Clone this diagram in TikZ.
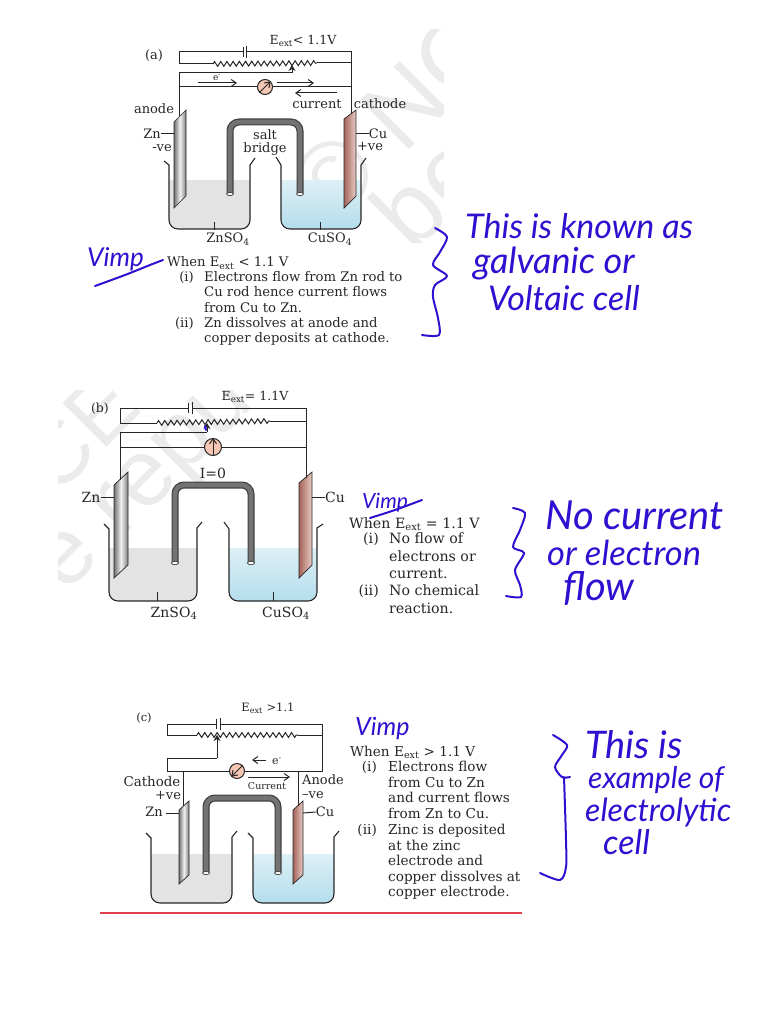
\documentclass[tikz,border=0pt]{standalone}
\usepackage{fontspec}
\setmainfont{DejaVu Serif}
\newfontfamily\handfont{Lato}
\newfontfamily\markfont{Liberation Sans}
\usetikzlibrary{arrows.meta,decorations.pathmorphing}
\definecolor{inkblue}{HTML}{3010D0}
\definecolor{brineblue}{HTML}{B4DDEC}
\definecolor{brinepale}{HTML}{DDF0F6}
\definecolor{meterpink}{HTML}{F6C6B4}
\definecolor{rulered}{HTML}{E0404E}
\definecolor{copperdark}{HTML}{A4635A}
\definecolor{copperpale}{HTML}{EBCDC6}
\tikzset{
  wire/.style={draw=black!85,line width=1pt},
  coil/.style={wire,decorate,decoration={zigzag,segment length=6.2pt,amplitude=2.4pt}},
  slider/.style={wire,-{Stealth[length=6pt,width=7pt]}},
  meter/.style={circle,draw=black!85,fill=meterpink,line width=1pt,minimum size=#1,inner sep=0pt},
  flow/.style={draw=black!85,line width=1pt,-{Straight Barb[length=5pt,width=7pt]}},
  glass/.style={draw=black!85,line width=1.1pt},
  znsalt/.style={fill=black!11},
  cusalt/.style={top color=brinepale,bottom color=brineblue,draw=none},
  tube/.style={draw=black!75,double=black!55,double distance=4.6pt,line width=1.2pt,rounded corners=9pt},
  tubeend/.style={draw=black!75,fill=white,line width=0.7pt},
  znrod/.style={left color=black!55,right color=black!50,middle color=black!6,draw=black!85,line width=0.7pt},
  curod/.style={left color=copperdark,right color=copperpale,draw=black!85,line width=0.7pt},
  lab/.style={font=\fontsize{#1}{#1}\selectfont,inner sep=0pt,text=black!85},
  lab/.default=13,
  prose/.style={font=\fontsize{#1}{15.6}\selectfont,inner sep=0pt,anchor=north west,align=left,text=black!85},
  prose/.default=13.2,
  hand/.style={font=\handfont\itshape\fontsize{#1}{#1}\selectfont,inner sep=0pt,text=inkblue,anchor=west},
  ink/.style={draw=inkblue,line width=2pt,line cap=round,line join=round},
  mark/.style={font=\markfont\fontsize{#1}{#1}\selectfont,text=black!8,rotate=45,inner sep=0pt}
}
\begin{document}
\begin{tikzpicture}[x=1pt,y=-1pt]
\useasboundingbox (0,0) rectangle (768,1024);
% watermark
\begin{scope}
\clip (70,30) rectangle (443,242);
\node[mark=100] (markA) at (394,116) {© NC};
\node[mark=100] (markB) at (428,190) {be};
\end{scope}
\begin{scope}
\clip (58,390) rectangle (330,625);
\node[mark=90] (markC) at (78,432) {CE};
\node[mark=95] (markD) at (150,488) {e repu};
\end{scope}

% cell a
\fill[znsalt] (169,180) [rounded corners=9pt] -- (169,229) -- (250,229) [sharp corners] -- (250,180) -- cycle;
\path[cusalt] (281,180) [rounded corners=9pt] -- (281,229) -- (361,229) [sharp corners] -- (361,180) -- cycle;
\draw[tube] (230,194) -- (230,122) -- (300,122) -- (300,194);
\draw[tubeend] (230,194) ellipse (3.4 and 1.6);
\draw[tubeend] (300,194) ellipse (3.4 and 1.6);
\draw[glass] (164,161) -- (169,165) [rounded corners=9pt] -- (169,229) -- (250,229) [sharp corners] -- (250,165) -- (255,158);
\draw[glass] (276,157) -- (281,165) [rounded corners=9pt] -- (281,229) -- (361,229) [sharp corners] -- (361,165) -- (366,158);
\draw[znrod] (174,122) -- (186,110) -- (186,196) -- (174,208) -- cycle;
\draw[curod] (344,119) -- (356,110) -- (356,196) -- (344,208) -- cycle;
\coordinate (aTopL) at (179,52);
\coordinate (aTopR) at (351,52);
\coordinate (aBatL) at (243,52);
\coordinate (aBatR) at (246,52);
\coordinate (aLoopL) at (179,64);
\coordinate (aResL) at (213,64);
\coordinate (aResR) at (317,63);
\coordinate (aLoopR) at (351,63);
\coordinate (aTapL) at (179,73);
\coordinate (aTapM) at (292,73);
\coordinate (aTapT) at (292,65);
\coordinate (aMidL) at (179,87);
\coordinate (aMidR) at (351,87);
\coordinate (aRodL) at (179,116);
\coordinate (aRodR) at (351,114);
\node[meter=15pt] (galA) at (265,87) {};
\draw[wire] (aBatL) -- (aTopL) -- (aLoopL) -- (aResL);
\draw[wire] (aBatR) -- (aTopR) -- (aRodR);
\draw[wire] (aBatL) +(0,-5) -- +(0,5);
\draw[wire] (aBatR) +(0,-6) -- +(0,6);
\draw[coil] (aResL) -- (aResR);
\draw[wire] (aResR) -- (aLoopR);
\draw[wire] (aRodL) -- (aTapL) -- (aTapM);
\draw[slider] (aTapM) -- (aTapT);
\draw[wire] (aMidL) -- (galA) -- (aMidR);
\draw[flow] (galA.225) -- (galA.45);
\coordinate (aElecL) at (198,83);
\coordinate (aElecR) at (237,83);
\coordinate (aCurL) at (277,83);
\coordinate (aCurR) at (314,83);
\coordinate (aBackL) at (295,93);
\coordinate (aBackR) at (337,93);
\draw[flow] (aElecL) -- (aElecR);
\draw[flow] (aCurL) -- (aCurR);
\draw[flow] (aBackR) -- (aBackL);
\node[lab=9] (aElec) at (217,78) {e\textsuperscript{-}};
\node[lab] (aPart) at (154,56) {(a)};
\node[lab=12.5] (aExt) at (303,41) {E\textsubscript{ext}< 1.1V};
\node[lab] (aCurrent) at (317,104) {current};
\node[lab] (aCathode) at (380,104) {cathode};
\node[lab] (aAnode) at (154,109) {anode};
\node[lab] (aZn) at (152,134) {Zn};
\node[lab] (aZnSign) at (162,148) {-ve};
\node[lab] (aCu) at (378,134) {Cu};
\node[lab] (aCuSign) at (370,147) {+ve};
\node[lab] (aSalt) at (265,135) {salt};
\node[lab] (aBridge) at (265,149) {bridge};
\node[lab] (aZnSalt) at (228,239) {ZnSO\textsubscript{4}};
\node[lab] (aCuSalt) at (330,239) {CuSO\textsubscript{4}};
\draw[wire] (aZn.east) -- (174,134);
\draw[wire] (aCu.west) -- (356,134);
\draw[wire] (214,222) -- (214,230);
\draw[wire] (320,222) -- (320,230);
\node[prose,anchor=west] (aWhen) at (167,263) {When E\textsubscript{ext} < 1.1 V};
\node[prose,anchor=north east] (aNumI) at (194,271) {(i)};
\node[prose] (aItemI) at (204,271) {Electrons flow from Zn rod to\\Cu rod hence current flows\\from Cu to Zn.};
\node[prose,anchor=north east] (aNumII) at (194,317) {(ii)};
\node[prose] (aItemII) at (204,317) {Zn dissolves at anode and\\copper deposits at cathode.};

% cell b
\fill[znsalt] (109,548) [rounded corners=9pt] -- (109,601) -- (197,601) [sharp corners] -- (197,548) -- cycle;
\path[cusalt] (229,548) [rounded corners=9pt] -- (229,601) -- (317,601) [sharp corners] -- (317,548) -- cycle;
\draw[tube] (175,563) -- (175,485) -- (251,485) -- (251,563);
\draw[tubeend] (175,563) ellipse (3.6 and 1.7);
\draw[tubeend] (251,563) ellipse (3.6 and 1.7);
\draw[glass] (104,524) -- (109,529) [rounded corners=9pt] -- (109,601) -- (197,601) [sharp corners] -- (197,528) -- (202,522);
\draw[glass] (224,522) -- (229,529) [rounded corners=9pt] -- (229,601) -- (317,601) [sharp corners] -- (317,528) -- (323,524);
\draw[znrod] (114,485) -- (128,472) -- (128,565) -- (114,578) -- cycle;
\draw[curod] (299,483) -- (312,472) -- (312,565) -- (299,578) -- cycle;
\coordinate (bTopL) at (120,408);
\coordinate (bTopR) at (306,408);
\coordinate (bBatL) at (188,408);
\coordinate (bBatR) at (192,408);
\coordinate (bLoopL) at (120,423);
\coordinate (bResL) at (157,423);
\coordinate (bResR) at (270,421);
\coordinate (bLoopR) at (306,421);
\coordinate (bTapL) at (120,432);
\coordinate (bTapM) at (207,432);
\coordinate (bTapT) at (207,423);
\coordinate (bMidL) at (120,447);
\coordinate (bMidR) at (306,447);
\coordinate (bRodL) at (120,480);
\coordinate (bRodR) at (306,478);
\node[meter=17pt] (galB) at (213,447) {};
\draw[wire] (bBatL) -- (bTopL) -- (bLoopL) -- (bResL);
\draw[wire] (bBatR) -- (bTopR) -- (bRodR);
\draw[wire] (bBatL) +(0,-5) -- +(0,5);
\draw[wire] (bBatR) +(0,-6) -- +(0,6);
\draw[coil] (bResL) -- (bResR);
\draw[wire] (bResR) -- (bLoopR);
\draw[wire] (bRodL) -- (bTapL) -- (bTapM);
\draw[slider] (bTapM) -- (bTapT);
\draw[wire] (bMidL) -- (galB) -- (bMidR);
\draw[flow] (galB.south) -- (galB.north);
\draw[ink] (205,426) -- (206,430);
\node[lab=12.5] (bPart) at (100,409) {(b)};
\node[lab=12.5] (bExt) at (255,397) {E\textsubscript{ext}= 1.1V};
\node[lab=14] (bZero) at (213,473) {I=0};
\node[lab=14] (bZn) at (91,497) {Zn};
\node[lab=14] (bCu) at (335,497) {Cu};
\node[lab=14] (bZnSalt) at (174,613) {ZnSO\textsubscript{4}};
\node[lab=14] (bCuSalt) at (286,613) {CuSO\textsubscript{4}};
\draw[wire] (bZn.east) -- (114,497);
\draw[wire] (bCu.west) -- (312,497);
\draw[wire] (157,592) -- (157,601);
\draw[wire] (273,592) -- (273,601);
\node[prose=14.2,anchor=west] (bWhen) at (349,524) {When E\textsubscript{ext} = 1.1 V};
\node[prose=14.2,anchor=north east,font=\fontsize{14.2}{17.2}\selectfont] (bNumI) at (379,533) {(i)};
\node[prose=14.2,font=\fontsize{14.2}{17.2}\selectfont] (bItemI) at (389,533) {No flow of\\electrons or\\current.};
\node[prose=14.2,anchor=north east,font=\fontsize{14.2}{17.2}\selectfont] (bNumII) at (379,585) {(ii)};
\node[prose=14.2,font=\fontsize{14.2}{17.2}\selectfont] (bItemII) at (389,585) {No chemical\\reaction.};

% cell c
\fill[znsalt] (151,854) [rounded corners=9pt] -- (151,903) -- (232,903) [sharp corners] -- (232,854) -- cycle;
\path[cusalt] (253,854) [rounded corners=9pt] -- (253,903) -- (334,903) [sharp corners] -- (334,854) -- cycle;
\draw[tube] (206,873) -- (206,798) -- (278,798) -- (278,873);
\draw[tubeend] (206,873) ellipse (3.4 and 1.6);
\draw[tubeend] (278,873) ellipse (3.4 and 1.6);
\draw[glass] (146,833) -- (151,838) [rounded corners=9pt] -- (151,903) -- (232,903) [sharp corners] -- (232,837) -- (237,831);
\draw[glass] (248,833) -- (253,838) [rounded corners=9pt] -- (253,903) -- (334,903) [sharp corners] -- (334,837) -- (339,831);
\draw[znrod] (179,810) -- (189,801) -- (189,875) -- (179,884) -- cycle;
\draw[curod] (293,810) -- (303,801) -- (303,875) -- (293,884) -- cycle;
\coordinate (cTopL) at (167,724);
\coordinate (cTopR) at (322,724);
\coordinate (cBatL) at (216,724);
\coordinate (cBatR) at (220,724);
\coordinate (cLoopL) at (167,735);
\coordinate (cResL) at (197,735);
\coordinate (cResR) at (298,735);
\coordinate (cLoopR) at (322,735);
\coordinate (cTapL) at (167,758);
\coordinate (cTapM) at (217,758);
\coordinate (cTapT) at (217,735);
\coordinate (cMidL) at (167,771);
\coordinate (cMidR) at (322,771);
\coordinate (cLeadL) at (183,771);
\coordinate (cLeadR) at (298,771);
\coordinate (cRodL) at (183,806);
\coordinate (cRodR) at (298,806);
\node[meter=15pt] (galC) at (237,771) {};
\draw[wire] (cBatL) -- (cTopL) -- (cLoopL) -- (cResL);
\draw[wire] (cBatR) -- (cTopR) -- (cMidR) -- (galC) -- (cMidL) -- (cTapL) -- (cTapM);
\draw[wire] (cBatL) +(0,-5) -- +(0,5);
\draw[wire] (cBatR) +(0,-6) -- +(0,6);
\draw[coil] (cResL) -- (cResR);
\draw[wire] (cResR) -- (cLoopR);
\draw[slider] (cTapM) -- (cTapT);
\draw[wire] (cLeadL) -- (cRodL);
\draw[wire] (cLeadR) -- (cRodR);
\draw[flow] (galC.45) -- (galC.225);
\coordinate (cElecL) at (252,760);
\coordinate (cElecR) at (266,760);
\coordinate (cCurL) at (248,777);
\coordinate (cCurR) at (290,777);
\draw[flow] (cElecR) -- (cElecL);
\draw[flow] (cCurL) -- (cCurR);
\node[lab=11] (cElec) at (277,761) {e\textsuperscript{-}};
\node[lab=9.5] (cCurrent) at (267,786) {Current};
\node[lab=11.5] (cPart) at (144,718) {(c)};
\node[lab=11.5] (cExt) at (268,708) {E\textsubscript{ext} >1.1};
\node[lab=13.4] (cCathode) at (152,781) {Cathode};
\node[lab] (cCathodeSign) at (168,796) {+ve};
\node[lab] (cZn) at (154,812) {Zn};
\node[lab] (cAnode) at (323,780) {Anode};
\node[lab] (cAnodeSign) at (313,795) {--ve};
\node[lab] (cCu) at (325,812) {Cu};
\draw[wire] (cZn.east) ++(3,1) -- (179,813);
\draw[wire] (cCu.west) -- (303,813);
\node[prose=13.6,anchor=west] (cWhen) at (350,752) {When E\textsubscript{ext} > 1.1 V};
\node[prose=13.6,anchor=north east] (cNumI) at (377,761) {(i)};
\node[prose=13.6] (cItemI) at (388,761) {Electrons flow\\from Cu to Zn\\and current flows\\from Zn to Cu.};
\node[prose=13.6,anchor=north east] (cNumII) at (377,824) {(ii)};
\node[prose=13.6] (cItemII) at (388,824) {Zinc is deposited\\at the zinc\\electrode and\\copper dissolves at\\copper electrode.};
\coordinate (ruleL) at (100,913);
\coordinate (ruleR) at (522,913);
\draw[draw=rulered,line width=1.2pt] (ruleL) -- (ruleR);

% notes
\node[hand=26] (aVimp) at (87,259) {Vimp};
\draw[ink] plot[smooth] coordinates {(95,286) (125,275) (150,265) (163,260)};
\node[hand=21] (bVimp) at (362,503) {Vimp};
\draw[ink] plot[smooth] coordinates {(370,518) (395,510) (422,500)};
\node[hand=25] (cVimp) at (355,729) {Vimp};
\draw[ink] plot[smooth] coordinates {(435,228) (447,237) (440,252) (433,265) (447,276) (435,285) (433,297) (438,318) (439,335) (422,335)};
\draw[ink] plot[smooth] coordinates {(513,508) (525,513) (520,530) (513,547) (524,553) (515,570) (520,585) (521,597) (506,596)};
\draw[ink] plot[smooth] coordinates {(553,735) (567,745) (562,755) (555,767) (562,777) (570,777)};
\draw[ink] plot[smooth] coordinates {(564,777) (566,840) (566,867) (560,880) (540,873)};
\node[hand=34] (aNoteA) at (465,226) {This is known as};
\node[hand=36] (aNoteB) at (473,264) {galvanic or};
\node[hand=34] (aNoteC) at (488,298) {Voltaic cell};
\node[hand=40] (bNoteA) at (545,515) {No current};
\node[hand=34.5] (bNoteB) at (547,553) {or electron};
\node[hand=40] (bNoteC) at (563,588) {flow};
\node[hand=38] (cNoteA) at (585,745) {This is};
\node[hand=30] (cNoteB) at (588,780) {example of};
\node[hand=32] (cNoteC) at (585,812) {electrolytic};
\node[hand=34] (cNoteD) at (603,842) {cell};
\end{tikzpicture}
\end{document}
